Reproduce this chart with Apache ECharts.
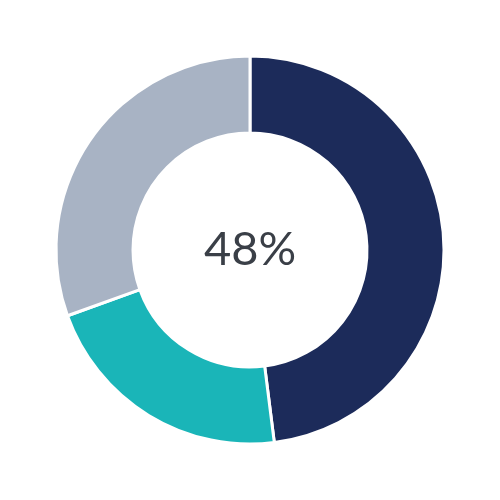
<!DOCTYPE html>
<html>
<head>
  <meta charset="UTF-8">
  <title>Donut</title>
  <script src="https://cdn.jsdelivr.net/npm/echarts@6/dist/echarts.min.js"></script>
  <style>html,body{margin:0;padding:0;background:#fff;}</style>
</head>
<body>
  <div id="main" style="width: 500px; height: 500px;"></div>
  <script>
    const names = ['A', 'B', 'C'];
    const values = [48, 21.5, 30.5];
    const colors = ['#1c2b5a', '#1ab5b8', '#a8b3c4'];
    const centerLabel = '48%';

    const option = {
      animation: false,
      color: colors,
      title: {
        text: centerLabel,
        left: 'center',
        top: 'middle',
        textStyle: { fontFamily: 'Lato', fontWeight: 'normal', fontSize: 47, color: '#3a3f47' }
      },
      series: [{
        type: 'pie',
        center: ['50%', '50%'],
        radius: [117, 194],
        startAngle: 90,
        clockwise: true,
        label: { show: false },
        labelLine: { show: false },
        itemStyle: { borderColor: '#fff', borderWidth: 3 },
        data: names.map((n, i) => ({ name: n, value: values[i] }))
      }]
    };

    const chart = echarts.init(document.getElementById('main'));
    chart.setOption(option);
  </script>
</body>
</html>
